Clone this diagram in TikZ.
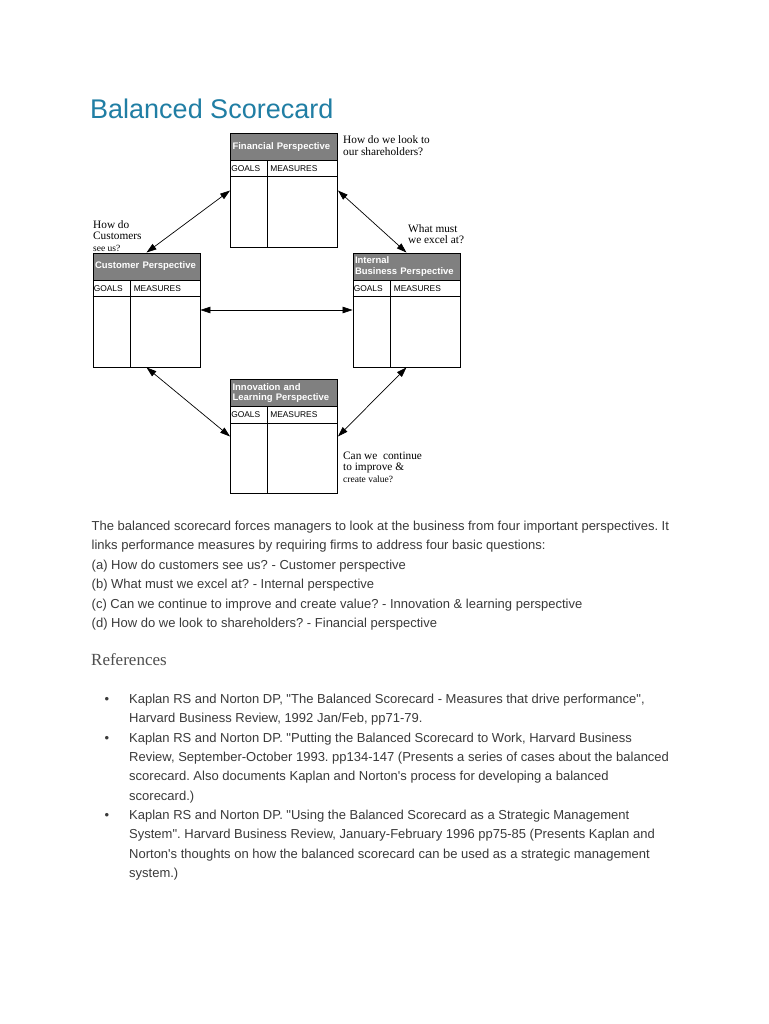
\documentclass[tikz,border=0pt]{standalone}
\usepackage{fontspec}
\setmainfont{Liberation Sans}
\newfontfamily\oldserif{Liberation Serif}
\usetikzlibrary{positioning, arrows.meta}
\frenchspacing

\definecolor{titleblue}{RGB}{32,126,164}
\definecolor{bodygray}{RGB}{58,58,58}
\definecolor{headgray}{RGB}{128,128,128}

\tikzset{
    card/.style={draw=black, line width=0.9pt, minimum width=107pt, minimum height=114pt, inner sep=0pt},
    headbar/.style={fill=headgray, draw=black, line width=0.9pt, anchor=north west,
        minimum height=27pt, text width=103pt, inner sep=2pt, align=left,
        text=white, font=\fontsize{9.5}{10.8}\selectfont\bfseries},
    rule/.style={draw=black, line width=0.9pt},
    cell/.style={anchor=west, inner sep=0pt, font=\fontsize{8.4}{9}\selectfont},
    link/.style={{Triangle[length=10pt,width=6.5pt]}-{Triangle[length=10pt,width=6.5pt]}, line width=0.7pt},
    question/.style={anchor=north west, inner sep=0pt, align=left, font=\oldserif\fontsize{11.3}{11.6}\selectfont},
    bodytext/.style={anchor=base west, inner sep=0pt, text=bodygray, font=\fontsize{13}{15}\selectfont},
}

\begin{document}
\begin{tikzpicture}[x=1pt, y=-1pt]
    \useasboundingbox[fill=white] (0,0) rectangle (768,1024);

    % title
    \node[anchor=base west, inner sep=0pt, text=titleblue, font=\fontsize{27}{30}\selectfont] (title) at (90,118.5) {Balanced Scorecard};

    % the four perspectives
    \node[card] (fin) at (284,190.5) {};
    \node[headbar] (finhead) at (fin.north west) {Financial Perspective};
    \draw[rule] ([yshift=-16pt]finhead.south west) -- ([yshift=-16pt]finhead.south east);
    \draw[rule] ([xshift=37pt]finhead.south west) -- ([xshift=37pt]fin.south west);
    \node[cell] (fingoals) at ([shift={(1pt,-8pt)}]finhead.south west) {GOALS};
    \node[cell] (finmeas) at ([shift={(40pt,-8pt)}]finhead.south west) {MEASURES};

    \node[card] (cust) at (146.5,310) {};
    \node[headbar] (custhead) at (cust.north west) {Customer Perspective};
    \draw[rule] ([yshift=-16pt]custhead.south west) -- ([yshift=-16pt]custhead.south east);
    \draw[rule] ([xshift=38pt]custhead.south west) -- ([xshift=38pt]cust.south west);
    \node[cell] (custgoals) at ([shift={(1pt,-8pt)}]custhead.south west) {GOALS};
    \node[cell] (custmeas) at ([shift={(41pt,-8pt)}]custhead.south west) {MEASURES};

    \node[card] (int) at (406.5,310) {};
    \node[headbar] (inthead) at (int.north west) {Internal\\Business Perspective};
    \draw[rule] ([yshift=-16pt]inthead.south west) -- ([yshift=-16pt]inthead.south east);
    \draw[rule] ([xshift=38pt]inthead.south west) -- ([xshift=38pt]int.south west);
    \node[cell] (intgoals) at ([shift={(1pt,-8pt)}]inthead.south west) {GOALS};
    \node[cell] (intmeas) at ([shift={(41pt,-8pt)}]inthead.south west) {MEASURES};

    \node[card] (inn) at (284,436.5) {};
    \node[headbar] (innhead) at (inn.north west) {Innovation and\\Learning Perspective};
    \draw[rule] ([yshift=-16pt]innhead.south west) -- ([yshift=-16pt]innhead.south east);
    \draw[rule] ([xshift=37pt]innhead.south west) -- ([xshift=37pt]inn.south west);
    \node[cell] (inngoals) at ([shift={(1pt,-8pt)}]innhead.south west) {GOALS};
    \node[cell] (innmeas) at ([shift={(40pt,-8pt)}]innhead.south west) {MEASURES};

    % links
    \draw[link] (fin.west) -- (cust.north);
    \draw[link] (fin.east) -- (int.north);
    \draw[link] (cust.east) -- (int.west);
    \draw[link] (cust.south) -- (inn.west);
    \draw[link] (int.south) -- (inn.east);

    % questions
    \node[question] (qfin) at (343,135.5) {How do we look to\\our shareholders?};
    \node[question] (qcust) at (93,220) {How do\\Customers\\{\fontsize{9.5}{11}\selectfont see us?}};
    \node[question] (qint) at (408,224) {What must\\we excel at?};
    \node[question] (qinn) at (343,451.5) {Can we~ continue\\to improve \&\\{\fontsize{9.5}{11}\selectfont create value?}};

    % text under the picture
    \node[bodytext] (p1) at (91.5,530) {The balanced scorecard forces managers to look at the business from four important perspectives. It};
    \node[bodytext] (p2) at (91.5,549.5) {links performance measures by requiring firms to address four basic questions:};
    \node[bodytext] (p3) at (91.5,569) {(a) How do customers see us? - Customer perspective};
    \node[bodytext] (p4) at (91.5,588.5) {(b) What must we excel at? - Internal perspective};
    \node[bodytext] (p5) at (91.5,608) {(c) Can we continue to improve and create value? - Innovation \& learning perspective};
    \node[bodytext] (p6) at (91.5,627.5) {(d) How do we look to shareholders? - Financial perspective};

    \node[bodytext, text=bodygray!90, font=\oldserif\fontsize{17}{19}\selectfont] (refs) at (91,665) {References};

    \node[bodytext] (b1) at (104.5,703.3) {•};
    \node[bodytext] (r1a) at (129,703.3) {Kaplan RS and Norton DP, \textquotedbl The Balanced Scorecard - Measures that drive performance\textquotedbl,};
    \node[bodytext] (r1b) at (129,722.6) {Harvard Business Review, 1992 Jan/Feb, pp71-79.};
    \node[bodytext] (b2) at (104.5,742) {•};
    \node[bodytext] (r2a) at (129,742) {Kaplan RS and Norton DP. \textquotedbl Putting the Balanced Scorecard to Work, Harvard Business};
    \node[bodytext] (r2b) at (129,761.3) {Review, September-October 1993. pp134-147 (Presents a series of cases about the balanced};
    \node[bodytext] (r2c) at (129,780.6) {scorecard. Also documents Kaplan and Norton\textquotesingle s process for developing a balanced};
    \node[bodytext] (r2d) at (129,800) {scorecard.)};
    \node[bodytext] (b3) at (104.5,819.3) {•};
    \node[bodytext] (r3a) at (129,819.3) {Kaplan RS and Norton DP. \textquotedbl Using the Balanced Scorecard as a Strategic Management};
    \node[bodytext] (r3b) at (129,838.6) {System\textquotedbl. Harvard Business Review, January-February 1996 pp75-85 (Presents Kaplan and};
    \node[bodytext] (r3c) at (129,858) {Norton\textquotesingle s thoughts on how the balanced scorecard can be used as a strategic management};
    \node[bodytext] (r3d) at (129,877.3) {system.)};
\end{tikzpicture}
\end{document}
